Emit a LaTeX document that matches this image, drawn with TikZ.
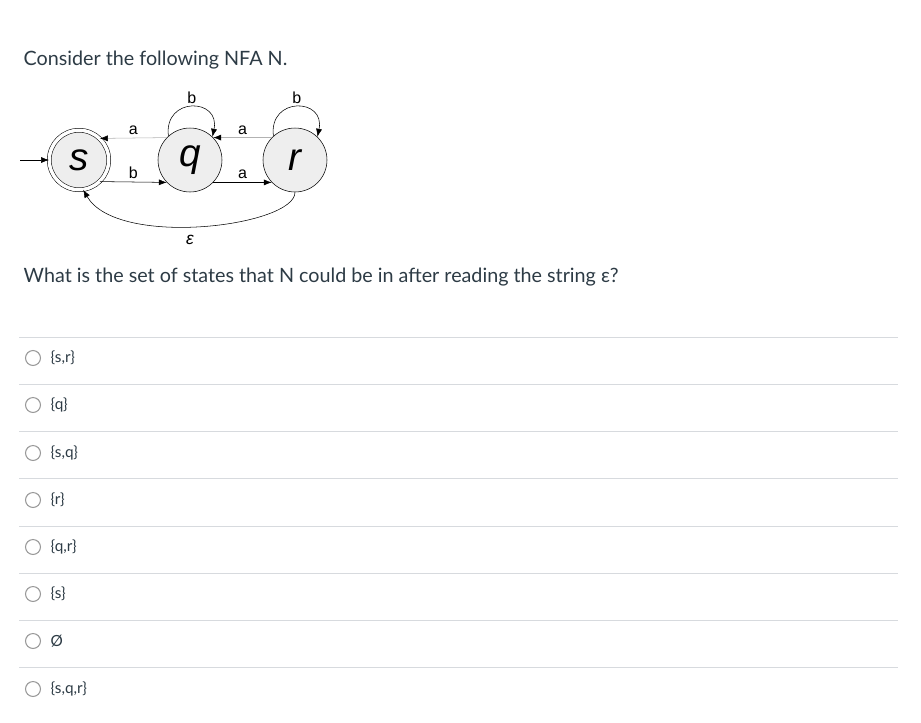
\documentclass[tikz,border=0pt]{standalone}
\usepackage{fontspec}
\setmainfont{Lato}
\newfontfamily\arialfont{Liberation Sans}
\usepackage{xcolor}
\usepackage{tikz}
\usetikzlibrary{arrows.meta}
\definecolor{qtext}{HTML}{2D3B45}
\definecolor{rule}{HTML}{D7DADE}
\definecolor{statefill}{HTML}{EEEEEE}

\begin{document}
\begin{tikzpicture}[x=0.75pt,y=0.75pt]
			\tikzstyle{state} = [circle, draw, fill=statefill, minimum size=48pt, inner sep=0pt, font=\arialfont\itshape\fontsize{29}{29}\selectfont]
			\tikzstyle{final} = [state, double, double distance=2.6pt, minimum size=44.6pt]
			\tikzstyle{lbl} = [font=\arialfont\fontsize{12}{12}\selectfont]
			\tikzstyle{question} = [anchor=base west, text=qtext, font=\fontsize{14.8}{17}\selectfont]
			\tikzstyle{radio} = [circle, draw=gray!80, line width=0.8pt, minimum size=11.2pt, inner sep=0pt]
			\tikzstyle{answer} = [anchor=west, text=qtext, font=\fontsize{11.5}{13}\selectfont]
			\tikzstyle{sep} = [draw=rule, line width=0.75pt]
			\tikzset{edge/.style = {-{Latex[length=6pt,width=4.5pt]}}}
			\tikzset{backedge/.style = {draw=gray!60, -{Latex[length=6pt,width=4.5pt,black]}}}
			
			\useasboundingbox (0,0) rectangle (921,-722);
			
			\node[question](title) at (19,-65) {Consider the following NFA N.};
			
			% the automaton
			\node[final](s) at (79,-160) {s};
			\node[state](q) at (190,-160) {q};
			\node[state](r) at (295,-160) {r};
			\coordinate (start) at (20,-160);
			\draw[edge](start) to (s);
			\draw[edge](s.-46) to node[lbl, above=-1pt] {b} (q.-136);
			\draw[backedge](q.136) to node[lbl, above=-1pt] {a} (s.46);
			\draw[edge](q.-44) to node[lbl, above=-1pt] {a} (r.-136);
			\draw[backedge](r.136) to node[lbl, above=-1pt] {a} (q.44);
			\draw[edge](q.132) .. controls +(97:40) and +(78:40) .. node[lbl, above=-1pt] {b} (q.46);
			\draw[edge](r.132) .. controls +(97:40) and +(78:40) .. node[lbl, above=-1pt] {b} (r.46);
			\draw[edge](r.-90) .. controls +(-90:34) and +(-60:68) .. (s.-82);
			\node[lbl, font=\arialfont\itshape\fontsize{13}{13}\selectfont](eps) at (190,-240) {ε};
			
			\node[question](ask) at (19,-282) {What is the set of states that N could be in after reading the string ε?};
			
			% answer options
			\draw[sep](19,-337) -- (898,-337);
			\node[radio](radio1) at (33,-358) {};
			\node[answer](opt1) at (46,-358) {\{s,r\}};
			\draw[sep](19,-384) -- (898,-384);
			\node[radio](radio2) at (33,-405) {};
			\node[answer](opt2) at (46,-405) {\{q\}};
			\draw[sep](19,-431) -- (898,-431);
			\node[radio](radio3) at (33,-453) {};
			\node[answer](opt3) at (46,-453) {\{s,q\}};
			\draw[sep](19,-478) -- (898,-478);
			\node[radio](radio4) at (33,-500) {};
			\node[answer](opt4) at (46,-500) {\{r\}};
			\draw[sep](19,-526) -- (898,-526);
			\node[radio](radio5) at (33,-547) {};
			\node[answer](opt5) at (46,-547) {\{q,r\}};
			\draw[sep](19,-573) -- (898,-573);
			\node[radio](radio6) at (33,-594) {};
			\node[answer](opt6) at (46,-594) {\{s\}};
			\draw[sep](19,-620) -- (898,-620);
			\node[radio](radio7) at (33,-641) {};
			\node[answer](opt7) at (46,-641) {Ø};
			\draw[sep](19,-667) -- (898,-667);
			\node[radio](radio8) at (33,-689) {};
			\node[answer](opt8) at (46,-689) {\{s,q,r\}};
			
			\end{tikzpicture}
\end{document}
